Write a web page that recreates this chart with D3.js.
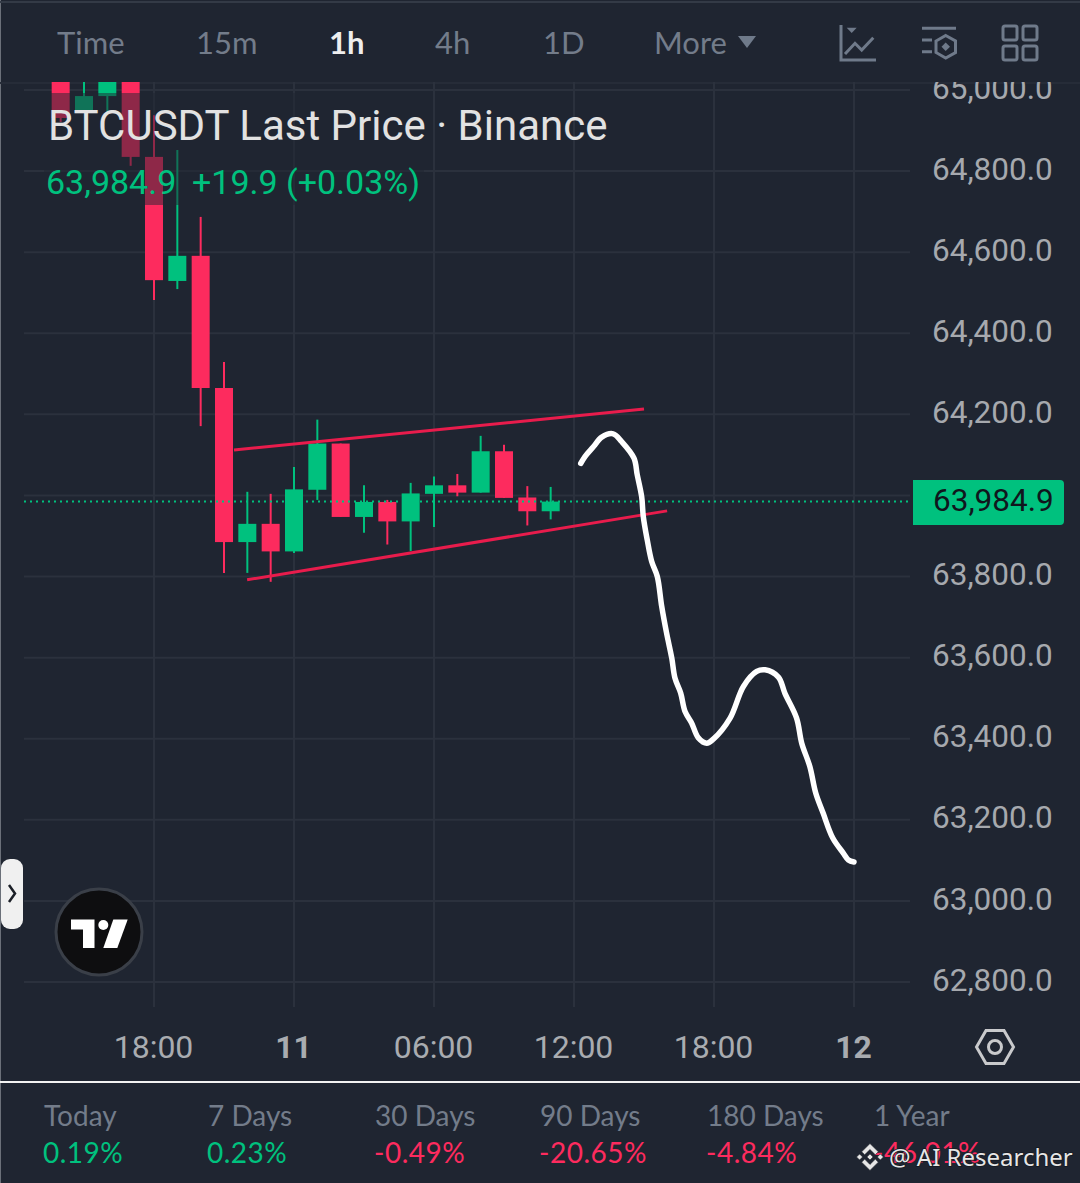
<!DOCTYPE html>
<html>
<head>
<meta charset="utf-8">
<style>
    html, body { margin: 0; padding: 0; background: #1f2531; }
    svg { display: block; }
</style>
<script src="https://cdn.jsdelivr.net/npm/d3@7"></script>
</head>
<body>
<div id="chart"></div>
<script>
// hours counted from 18:00 on the 10th
const candleHours = [-4, -3, -2, -1, 0, 1, 2, 3, 4, 5, 6, 7, 8, 9, 10, 11, 12, 13, 14, 15, 16, 17];
const opens  = [65080, 64945, 64985, 65080, 64835, 64529, 64591, 64265, 63885, 63930, 63862, 64014, 64128, 63947, 63984, 63936, 64004, 64025, 64007, 64109, 63995, 63961];
const closes = [64931, 64985, 65080, 64835, 64531, 64591, 64265, 63885, 63930, 63862, 64015, 64128, 63947, 63984, 63936, 64005, 64025, 64007, 64109, 63994, 63961, 63984.9];
const highs  = [65100, 65100, 65080, 65080, 64938, 64852, 64687, 64329, 64009, 64004, 64070, 64187, 64128, 64025, 63989, 64031, 64047, 64053, 64147, 64125, 64023, 64021];
const lows   = [64921, 64945, 64945, 64813, 64482, 64509, 64171, 63809, 63809, 63787, 63858, 63989, 63947, 63908, 63879, 63863, 63922, 63998, 64007, 63994, 63926, 63941];

const lastPrice = 63984.9;

// hand drawn lines
const upperLineHours = [3.43, 21.0];
const upperLinePrices = [64112, 64213];
const lowerLineHours = [3.99, 21.99];
const lowerLinePrices = [63792, 63962];
const sketchHours = [18.29, 18.47, 18.83, 19.19, 19.68, 20.04, 20.57, 20.71, 20.90, 20.97, 21.14, 21.33, 21.57, 21.76, 21.97, 22.19, 22.33, 22.57, 22.76, 23.04, 23.33, 23.69, 23.97, 24.69, 25.26, 25.83, 26.19, 26.76, 27.04, 27.54, 27.76, 28.11, 28.36, 28.68, 29.09, 29.54, 29.76, 30.0];
const sketchPrices = [64079, 64096, 64120, 64144, 64152, 64133, 64092, 64051, 63997, 63948, 63890, 63837, 63800, 63726, 63660, 63599, 63549, 63513, 63467, 63439, 63402, 63389, 63399, 63451, 63529, 63566, 63570, 63552, 63512, 63451, 63389, 63331, 63266, 63216, 63155, 63118, 63101, 63096];

const priceTicks = [65000, 64800, 64600, 64400, 64200, 63800, 63600, 63400, 63200, 63000, 62800];
const gridPrices = [65000, 64800, 64600, 64400, 64200, 64000, 63800, 63600, 63400, 63200, 63000, 62800];
const timeTicks = [0, 6, 12, 18, 24, 30];
const timeLabels = ["18:00", "11", "06:00", "12:00", "18:00", "12"];

const tabLabels = ["Time", "15m", "1h", "4h", "1D", "More"];
const tabLefts = [57, 196, 329, 435, 543, 654];

const statLabels = ["Today", "7 Days", "30 Days", "90 Days", "180 Days", "1 Year"];
const statValues = ["0.19%", "0.23%", "-0.49%", "-20.65%", "-4.84%", "-46.01%"];
const statLefts = [44, 208, 375, 540, 707, 874];

const width = 1080;
const height = 1183;
const bg = "#1f2531";
const green = "#00c17e";
const red = "#fd2b5e";
const iconGrey = "#6f7a8a";

const svg = d3.select("#chart").append("svg")
    .attr("width", width)
    .attr("height", height)
    .attr("viewBox", `0 0 ${width} ${height}`);

svg.append("rect").attr("width", width).attr("height", height).attr("fill", bg);

// frame lines
svg.append("rect").attr("x", 0).attr("y", 0).attr("width", 1).attr("height", height).attr("fill", "#6b7079");
svg.append("rect").attr("x", 0).attr("y", 1).attr("width", width).attr("height", 2).attr("fill", "#333a46");
svg.append("rect").attr("x", 0).attr("y", 82).attr("width", width).attr("height", 2).attr("fill", "#262c38");
svg.append("rect").attr("x", 0).attr("y", 1081).attr("width", width).attr("height", 2).attr("fill", "#f2f2f2");

const x = d3.scaleLinear().domain([0, 30]).range([154, 854]);
const y = d3.scaleLinear().domain([65000, 62800]).range([90, 982]);

svg.append("defs").append("clipPath").attr("id", "plotClip")
    .append("rect").attr("x", 0).attr("y", 82).attr("width", width).attr("height", 930);

const plot = svg.append("g").attr("clip-path", "url(#plotClip)");

// Grid
plot.selectAll(".hgrid").data(gridPrices).enter().append("line")
    .attr("x1", 24).attr("x2", 910)
    .attr("y1", d => y(d)).attr("y2", d => y(d))
    .attr("stroke", "#2b313d").attr("stroke-width", 2);

plot.selectAll(".vgrid").data(timeTicks).enter().append("line")
    .attr("x1", d => x(d)).attr("x2", d => x(d))
    .attr("y1", 82).attr("y2", 1007)
    .attr("stroke", "#2b313d").attr("stroke-width", 2);

// Candles
const candleColor = i => closes[i] >= opens[i] ? green : red;

plot.selectAll(".wick").data(candleHours).enter().append("line")
    .attr("x1", d => x(d)).attr("x2", d => x(d))
    .attr("y1", (d, i) => y(highs[i])).attr("y2", (d, i) => y(lows[i]))
    .attr("stroke", (d, i) => candleColor(i)).attr("stroke-width", 2);

plot.selectAll(".body").data(candleHours).enter().append("rect")
    .attr("x", d => x(d) - 9)
    .attr("width", 18)
    .attr("y", (d, i) => y(Math.max(opens[i], closes[i])))
    .attr("height", (d, i) => Math.abs(y(opens[i]) - y(closes[i])))
    .attr("fill", (d, i) => candleColor(i));

// Last price line
plot.append("line")
    .attr("x1", 24).attr("x2", 910)
    .attr("y1", y(lastPrice)).attr("y2", y(lastPrice))
    .attr("stroke", green).attr("stroke-width", 2).attr("stroke-dasharray", "2 4");

// Drawn lines
const line = d3.line().x(d => x(d[0])).y(d => y(d[1]));

plot.append("path")
    .attr("d", line(d3.zip(upperLineHours, upperLinePrices)))
    .attr("fill", "none").attr("stroke", "#e81c4c").attr("stroke-width", 3);
plot.append("path")
    .attr("d", line(d3.zip(lowerLineHours, lowerLinePrices)))
    .attr("fill", "none").attr("stroke", "#e81c4c").attr("stroke-width", 3);

plot.append("path")
    .attr("d", line.curve(d3.curveCatmullRom)(d3.zip(sketchHours, sketchPrices)))
    .attr("fill", "none").attr("stroke", "#ffffff").attr("stroke-width", 5.5)
    .attr("stroke-linecap", "round").attr("stroke-linejoin", "round");

// Legend backing dims whatever is under the title
svg.append("rect")
    .attr("x", 44).attr("y", 93).attr("width", 380).attr("height", 112)
    .attr("fill", bg).attr("opacity", 0.5);

svg.append("text").text("BTCUSDT Last Price · Binance")
    .attr("x", 48).attr("y", 140)
    .style("font-family", "Roboto").style("font-size", "42px").style("fill", "#e2e2e2");
svg.append("text").text("63,984.9")
    .attr("x", 46).attr("y", 194)
    .style("font-family", "Roboto").style("font-size", "34px").style("fill", green);
svg.append("text").text("+19.9 (+0.03%)")
    .attr("x", 192).attr("y", 194)
    .style("font-family", "Roboto").style("font-size", "34px").style("fill", green);

// Axes
const yAxis = d3.axisRight(y)
    .tickValues(priceTicks)
    .tickSize(0).tickPadding(0)
    .tickFormat(d3.format(",.1f"));

const yAxisG = svg.append("g").attr("clip-path", "url(#plotClip)")
    .append("g")
    .attr("transform", "translate(932,-2)")
    .call(yAxis);
yAxisG.select(".domain").remove();
yAxisG.selectAll("text")
    .style("font-family", "Roboto").style("font-size", "31.5px").style("fill", "#a6a9ae");

const xAxis = d3.axisBottom(x)
    .tickValues(timeTicks)
    .tickSize(0).tickPadding(0)
    .tickFormat((d, i) => timeLabels[i]);

const xAxisG = svg.append("g")
    .attr("transform", "translate(-1,1035)")
    .call(xAxis);
xAxisG.select(".domain").remove();
xAxisG.selectAll("text")
    .style("font-family", "Roboto").style("font-size", "32px")
    .style("font-weight", (d, i) => timeLabels[i].includes(":") ? 400 : 700)
    .style("fill", "#a9acb0");

// Last price tag
svg.append("path")
    .attr("d", "M913,480H1060a4,4 0 0 1 4,4V521a4,4 0 0 1 -4,4H913Z")
    .attr("fill", green);
svg.append("text").text(d3.format(",.1f")(lastPrice))
    .attr("x", 933).attr("y", 511)
    .style("font-family", "Roboto").style("font-size", "31.5px").style("fill", "#10161d");

// Tabs
svg.selectAll(".tab").data(tabLabels).enter().append("text")
    .text(d => d)
    .attr("x", (d, i) => tabLefts[i]).attr("y", 54)
    .style("font-family", "Lato").style("font-size", "31px")
    .style("font-weight", d => d === "1h" ? 700 : 400)
    .style("fill", d => d === "1h" ? "#eeeeee" : "#737c8a");

svg.append("path").attr("d", "M738,36H756L747,48Z").attr("fill", iconGrey);

// Toolbar icons
const icons = svg.append("g").attr("fill", "none").attr("stroke", iconGrey).attr("stroke-width", 3);
icons.append("path").attr("d", "M841,25V60H876");
icons.append("path").attr("d", "M846.7,27.7H856.7L851.7,33Z").attr("fill", iconGrey).attr("stroke", "none");
icons.append("path").attr("d", "M845,54L855,43.3L861.7,50L873.3,37.7");
icons.append("path").attr("d", "M922,28.3H956M922,40H932M922,51.7H932");
icons.append("path").attr("d", "M945.7,35.5L955.5,41V52.5L945.7,58L936,52.5V41Z");
icons.append("path").attr("d", "M945.7,42.5L950,46.8L945.7,51L941.5,46.8Z").attr("fill", iconGrey).attr("stroke", "none");
[[1003, 26], [1023, 26], [1003, 46], [1023, 46]].forEach(p => {
    icons.append("rect").attr("x", p[0]).attr("y", p[1]).attr("width", 14).attr("height", 14).attr("rx", 2);
});

// Side handle
svg.append("rect").attr("x", 1).attr("y", 859).attr("width", 22).attr("height", 70).attr("rx", 9).attr("fill", "#f0f0f0");
svg.append("path").attr("d", "M9,885L15,893.5L9,902").attr("fill", "none").attr("stroke", "#1b1f27").attr("stroke-width", 2.5);

// TradingView badge
svg.append("circle").attr("cx", 99).attr("cy", 932).attr("r", 43).attr("fill", "#0e0e10").attr("stroke", "#3a3f48").attr("stroke-width", 3);
svg.append("path").attr("d", "M71,919.5H94.5V948H83V929.5H71Z").attr("fill", "#ffffff");
svg.append("circle").attr("cx", 103.3).attr("cy", 925).attr("r", 5).attr("fill", "#ffffff");
svg.append("path").attr("d", "M113.3,919.5H127.7L117.3,948H103.3Z").attr("fill", "#ffffff");

// Settings icon
svg.append("path").attr("d", "M976.5,1047L986,1030.5H1004L1013.5,1047L1004,1063.5H986Z")
    .attr("fill", "none").attr("stroke", "#c9cacc").attr("stroke-width", 3);
svg.append("circle").attr("cx", 995).attr("cy", 1047).attr("r", 6.5)
    .attr("fill", "none").attr("stroke", "#c9cacc").attr("stroke-width", 3);

// Bottom stats
svg.selectAll(".statLabel").data(statLabels).enter().append("text")
    .text(d => d)
    .attr("x", (d, i) => statLefts[i]).attr("y", 1126)
    .style("font-family", "Lato").style("font-size", "28px").style("fill", "#737c8a");

svg.selectAll(".statValue").data(statValues).enter().append("text")
    .text(d => d)
    .attr("x", (d, i) => statLefts[i] - 1).attr("y", 1163)
    .style("font-family", "Lato").style("font-size", "28px")
    .style("letter-spacing", "0.5px")
    .style("fill", d => d.startsWith("-") ? red : green);

// Watermark
const mark = svg.append("g");
mark.append("path")
    .attr("transform", "translate(856.5,1143.5) scale(0.214)")
    .attr("d", "M38.2,53L63,28.3L87.8,53L102.2,38.6L63,0L23.8,39ZM0,63L14.4,48.6L28.8,63L14.4,77.4ZM38.2,73L63,97.7L87.8,73L102.2,87.3L63,126L23.8,87.2ZM97.2,63L111.6,48.6L126,63L111.6,77.4ZM77.6,63L63,48.4L48.4,63L63,77.6Z")
    .attr("fill", "#e6e6e6").attr("stroke", "#1b1f27").attr("stroke-width", 3);
mark.append("text").text("@ AI Researcher")
    .attr("x", 889).attr("y", 1166)
    .style("font-family", "Noto Sans").style("font-size", "24px").style("fill", "#e6e6e6")
    .style("paint-order", "stroke").style("stroke", "#14181f").style("stroke-width", "1.5px");
</script>
</body>
</html>
